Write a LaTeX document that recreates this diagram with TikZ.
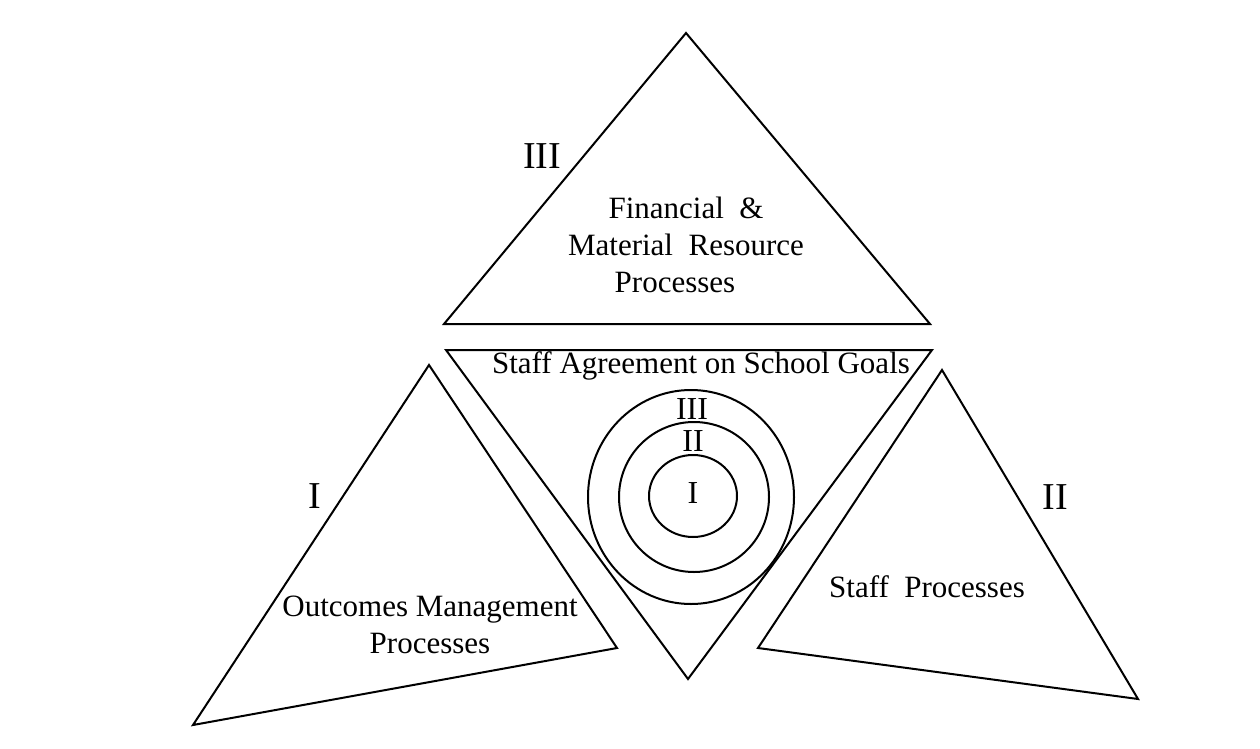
\documentclass[tikz,border=0pt]{standalone}
\usepackage{fontspec}
\setmainfont{Liberation Serif}
\begin{document}
\begin{tikzpicture}[x=1pt,y=-1pt,
  tri/.style={draw, line width=2pt, line join=miter},
  ringline/.style={draw, line width=2pt},
  txt/.style={font=\rmfamily\fontsize{31}{37}\selectfont, align=center, inner sep=0pt},
  bignum/.style={font=\rmfamily\fontsize{38}{40}\selectfont, inner sep=0pt},
  ringnum/.style={font=\rmfamily\fontsize{32}{34}\selectfont, inner sep=0pt}]
\useasboundingbox (0,0) rectangle (1260,749);
% top triangle
\coordinate (tA) at (686,33);
\coordinate (tB) at (444,324);
\coordinate (tC) at (930,324);
\draw[tri] (tA) -- (tB) -- (tC) -- cycle;
% middle inverted triangle
\coordinate (mA) at (446,350);
\coordinate (mB) at (932,350);
\coordinate (mC) at (688,679);
\draw[tri] (mA) -- (mB) -- (mC) -- cycle;
% left triangle
\coordinate (lA) at (429,365);
\coordinate (lB) at (193,725);
\coordinate (lC) at (617,648);
\draw[tri] (lA) -- (lB) -- (lC) -- cycle;
% right triangle
\coordinate (rA) at (942,370);
\coordinate (rB) at (758,648);
\coordinate (rC) at (1138,699);
\draw[tri] (rA) -- (rB) -- (rC) -- cycle;
% rings
\draw[ringline] (691,497) ellipse [x radius=103pt, y radius=107pt];
\draw[ringline] (694,497) ellipse [x radius=75pt, y radius=75pt];
\draw[ringline] (693,496) ellipse [x radius=44pt, y radius=41pt];
\node[ringnum] (r3) at (692,409) {III};
\node[ringnum] (r2) at (693,441) {II};
\node[ringnum] (r1) at (693,493) {I};
% texts
\node[txt] (fin) at (686,245) {Financial~~\&\\Material~~Resource\\\hspace*{-22pt}Processes};
\node[txt] (agree) at (701,366) {Staff Agreement on School Goals};
\node[txt] (outc) at (430,625) {Outcomes Management\\Processes};
\node[txt] (staff) at (927,587) {Staff~~Processes};
% outer numerals
\node[bignum] (n3) at (542,156) {III};
\node[bignum] (n1) at (315,496) {I};
\node[bignum] (n2) at (1055,497) {II};
\end{tikzpicture}
\end{document}
